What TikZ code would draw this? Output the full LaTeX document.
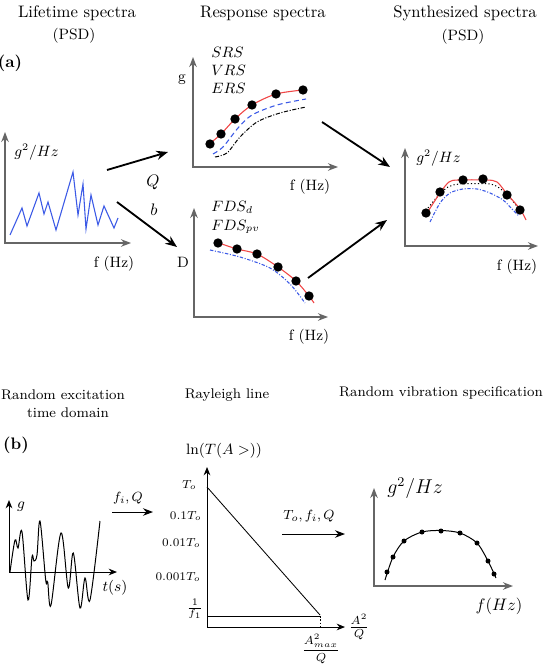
\documentclass[tikz,border=0pt]{standalone}
\usetikzlibrary{arrows.meta}
\usepackage{amsmath}
\definecolor{myred}{RGB}{240,70,70}
\definecolor{myblue}{RGB}{60,90,230}
\begin{document}
\begin{tikzpicture}[x=0.6pt,y=-0.6pt,
  ttl/.style={font=\normalsize, inner sep=0},
  subttl/.style={font=\small, inner sep=0},
  bttl/.style={font=\fontsize{8.4}{10}\selectfont, inner sep=0},
  lbl/.style={font=\small, inner sep=0},
  tiny/.style={font=\scriptsize, inner sep=0},
  gaxis/.style={draw=black!60, line width=1pt, {Stealth[length=6pt,width=4.5pt]}-{Stealth[length=6pt,width=4.5pt]}},
  baxis/.style={draw=black, line width=0.6pt, {Stealth[length=5pt,width=4pt]}-{Stealth[length=5pt,width=4pt]}},
  flow/.style={draw=black, line width=1.1pt, -{Stealth[length=7pt,width=5.5pt]}},
  bflow/.style={draw=black, line width=0.6pt, -{Stealth[length=6pt,width=4.5pt]}},
  redc/.style={draw=myred, line width=0.65pt},
  bluedash/.style={draw=myblue, line width=0.65pt, dash pattern=on 3pt off 2pt},
  bluedd/.style={draw=myblue, line width=0.65pt, dash pattern=on 2pt off 1pt on 0.6pt off 1pt},
  blackdd/.style={draw=black, line width=0.6pt, dash pattern=on 2.5pt off 1pt on 0.6pt off 1pt},
  blackdot/.style={draw=black, line width=0.6pt, dash pattern=on 0.7pt off 1.4pt},
  bigdot/.style={fill=black},
]
\useasboundingbox (0,0) rectangle (544,665);

% ---------------- (a) ----------------
\node[ttl] (t1) at (77,13) {Lifetime spectra};
\node[subttl] (t1b) at (74,36) {(PSD)};
\node[ttl] (t2) at (263,13) {Response spectra};
\node[ttl] (t3) at (465,13) {Synthesized spectra};
\node[subttl] (t3b) at (463,37) {(PSD)};
\node[font=\normalsize\bfseries, inner sep=0] (la) at (10,63) {(a)};

% left plot
\draw[gaxis] (5,132) -- (5,243) -- (131,243);
\node[lbl, anchor=west] (psdl) at (14,152) {$g^2/Hz$};
\node[lbl] (fl) at (114,264) {f (Hz)};
\draw[draw=myblue, line width=0.65pt] (10,235) -- (22,208) -- (27,226) -- (39,193) -- (44,214) -- (48,202) -- (56,230) -- (73,172) -- (78,215) -- (83,184) -- (86,229) -- (91,195) -- (98,225) -- (104,206) -- (114,228) -- (118,218);

% arrows from left plot
\coordinate (a1s) at (107,170); \coordinate (a1e) at (168,152);
\coordinate (a2s) at (117,202); \coordinate (a2e) at (177,247);
\draw[flow] (a1s) -- (a1e);
\draw[flow] (a2s) -- (a2e);
\node[font=\normalsize, inner sep=0] (Q) at (153,182) {$Q$};
\node[font=\normalsize, inner sep=0] (b) at (154,210) {$b$};

% upper middle plot
\draw[gaxis] (193,57) -- (193,167) -- (338,167);
\node[lbl] (gm) at (182,80) {g};
\node[lbl] (fm1) at (310,187) {f (Hz)};
\node[lbl, anchor=west] (srs) at (211,52) {$SRS$};
\node[lbl, anchor=west] (vrs) at (211,70) {$VRS$};
\node[lbl, anchor=west] (ers) at (211,88) {$ERS$};
\draw[blackdd] plot[smooth] coordinates {(215,157) (227,153) (240,137) (257,122) (280,113) (306,107)};
\draw[bluedash] plot[smooth] coordinates {(213,154) (223,147) (238,128) (252,115) (277,105) (306,99)};
\draw[redc] plot[smooth] coordinates {(207,146) (221,134) (235,119) (252,105) (276,94) (303,90)};
\foreach \p in {(210,144),(221,134),(235,119),(252,105),(276,94),(303,90)}
  \fill[bigdot] \p circle[radius=2.8pt];

% lower middle plot
\draw[gaxis] (194,208) -- (194,317) -- (328,317);
\node[lbl] (Dm) at (183,262) {D};
\node[lbl] (fm2) at (309,337) {f (Hz)};
\node[lbl, anchor=west] (fdsd) at (211,207) {$FDS_d$};
\node[lbl, anchor=west] (fdspv) at (211,227) {$FDS_{pv}$};
\draw[bluedd] plot[smooth] coordinates {(210,250) (240,257) (270,268) (290,284) (305,303)};
\draw[redc] plot[smooth] coordinates {(216,242) (237,249) (257,254) (278,267) (296,281) (309,296) (314,303)};
\foreach \p in {(218,243),(237,249),(257,254),(278,267),(296,281),(309,296)}
  \fill[bigdot] \p circle[radius=2.8pt];

% arrows to right plot
\coordinate (a3s) at (322,122); \coordinate (a3e) at (390,167);
\coordinate (a4s) at (308,278); \coordinate (a4e) at (387,220);
\draw[flow] (a3s) -- (a3e);
\draw[flow] (a4s) -- (a4e);

% right plot
\draw[gaxis] (405,148) -- (405,246) -- (538,246);
\node[lbl, anchor=west] (psdr) at (416,158) {$g^2/Hz$};
\node[lbl] (fr) at (517,267) {f (Hz)};
\draw[bluedd] plot[smooth] coordinates {(430,222) (440,203) (450,193) (463,189) (477,189) (490,193) (503,200) (512,209) (519,216)};
\draw[blackdot] plot[smooth] coordinates {(428,208) (438,196) (448,187) (460,184) (490,184) (502,190) (512,200) (518,208)};
\draw[redc] plot[smooth] coordinates {(427,213) (440,193) (449,182) (458,180) (486,180) (497,182) (507,194) (520,209) (526,220)};
\foreach \p in {(426,213),(440,192),(463,180),(483,179),(507,195),(520,210)}
  \fill[bigdot] \p circle[radius=2.8pt];

% ---------------- (b) ----------------
\node[bttl] (t4) at (63,395) {Random excitation};
\node[bttl] (t4b) at (68,413) {time domain};
\node[bttl] (t5) at (227,395) {Rayleigh line};
\node[bttl] (t6) at (441,393) {Random vibration specification};
\node[font=\normalsize\bfseries, inner sep=0] (lb) at (16,445) {(b)};

% time signal
\draw[baxis] (9,500) -- (9,572) -- (117,572);
\node[lbl] (gl) at (21,507) {$g$};
\node[lbl] (ts) at (115,588) {$t(s)$};
\draw[black, line width=0.6pt] plot[smooth, tension=0.55] coordinates {(10,572) (15,540) (18,548) (22,532) (28,600) (32,557) (34,561) (37,555) (40,521) (45.7,580) (47.7,582) (51,605) (61,533) (68.3,588) (73.3,553) (80,608) (85,578) (90,600) (100,521)};

\coordinate (b1s) at (112,512); \coordinate (b1e) at (153,512);
\draw[bflow] (b1s) -- (b1e);
\node[font=\footnotesize, inner sep=0] (fiQ) at (128,498) {$f_i,Q$};

% Rayleigh plot
\draw[baxis] (207,467) -- (207,627) -- (345,627);
\node[lbl] (lnT) at (224,451) {$\ln(T(A>))$};
\node[tiny, anchor=east] (To) at (197,485) {$T_o$};
\node[tiny, anchor=east] (To1) at (202,516) {$0.1T_o$};
\node[tiny, anchor=east] (To2) at (201,543) {$0.01T_o$};
\node[tiny, anchor=east] (To3) at (201,577) {$0.001T_o$};
\node[font=\small, inner sep=0] (f1) at (195,609) {$\frac{1}{f_1}$};
\coordinate (r0) at (207,487); \coordinate (r1) at (320,615);
\coordinate (h0) at (207,616); \coordinate (h1) at (320,616);
\coordinate (v1) at (320,627);
\draw[black, line width=0.5pt] (r0) -- (r1);
\draw[black, line width=0.5pt] (h0) -- (h1);
\draw[black, line width=0.5pt, dash pattern=on 1pt off 1pt] (h1) -- (v1);
\node[font=\fontsize{7}{8}\selectfont, inner sep=0] (Amax) at (321,649) {$\dfrac{A^2_{max}}{Q}$};
\node[font=\normalsize, inner sep=0] (AQ) at (359,627) {$\frac{A^2}{Q}$};

\coordinate (b2s) at (282,534); \coordinate (b2e) at (345,534);
\draw[bflow] (b2s) -- (b2e);
\node[font=\footnotesize, inner sep=0] (TfQ) at (309,516) {$T_o, f_i, Q$};

% specification plot
\draw[gaxis] (374,488) -- (374,586) -- (513,586);
\node[font=\large, inner sep=0, anchor=west] (psdb) at (387,488) {$g^2/Hz$};
\node[font=\normalsize, inner sep=0] (fhz) at (499,606) {$f(Hz)$};
\draw[black, line width=0.6pt] plot[smooth] coordinates {(385,580) (393,557) (404,541) (422,532) (441,530.5) (460,533) (477,543) (488,561) (496,578)};
\foreach \p in {(387,572),(393,557),(404,541),(422,532),(441,531),(460,533),(477,543),(488,561),(494,574)}
  \fill[bigdot] \p circle[radius=1.5pt];
\end{tikzpicture}
\end{document}
